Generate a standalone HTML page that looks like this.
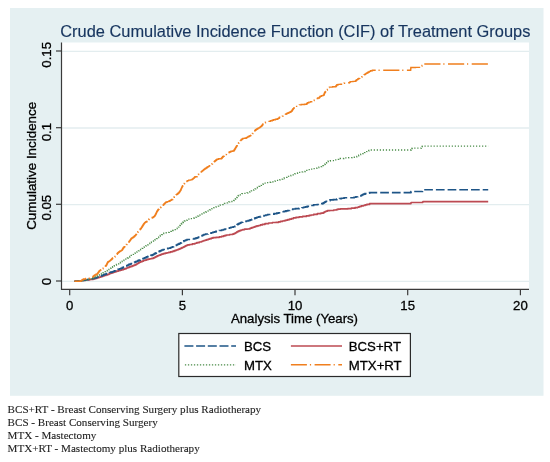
<!DOCTYPE html>
<html><head><meta charset="utf-8"><title>Crude Cumulative Incidence Function</title>
<style>
html,body{margin:0;padding:0;background:#fff;width:550px;height:462px;overflow:hidden}
svg{display:block}
.t{font-family:"Liberation Sans",Arial,sans-serif;font-size:13.2px;fill:#000;stroke:#000;stroke-width:0.3px}
.ti{font-family:"Liberation Sans",Arial,sans-serif;font-size:16.4px;fill:#17355F;stroke:#17355F;stroke-width:0.15px}
.f{font-family:"Liberation Serif","DejaVu Serif",serif;font-size:11.1px;fill:#222;stroke:#222;stroke-width:0.1px}
</style></head><body>
<svg width="550" height="462" viewBox="0 0 550 462">
<rect x="10" y="8" width="533.5" height="387.8" fill="#E5F0F2"/>
<rect x="62" y="42.5" width="467" height="246.5" fill="#fff"/>
<line x1="62" x2="529" y1="281.3" y2="281.3" stroke="#E3EDEF" stroke-width="1.3"/>
<line x1="62" x2="529" y1="204.6" y2="204.6" stroke="#E3EDEF" stroke-width="1.3"/>
<line x1="62" x2="529" y1="128.0" y2="128.0" stroke="#E3EDEF" stroke-width="1.3"/>
<line x1="62" x2="529" y1="51.3" y2="51.3" stroke="#E3EDEF" stroke-width="1.3"/>
<line x1="61.5" x2="61.5" y1="42.5" y2="289.8" stroke="#3a3a3a" stroke-width="1.2"/>
<line x1="61" x2="529" y1="289.3" y2="289.3" stroke="#3a3a3a" stroke-width="1.2"/>
<line x1="56" x2="61.5" y1="281.0" y2="281.0" stroke="#3a3a3a" stroke-width="1.2"/>
<text transform="translate(50.6,281.6) rotate(-90)" text-anchor="middle" class="t">0</text>
<line x1="56" x2="61.5" y1="204.3" y2="204.3" stroke="#3a3a3a" stroke-width="1.2"/>
<text transform="translate(50.6,207.7) rotate(-90)" text-anchor="middle" class="t">0.05</text>
<line x1="56" x2="61.5" y1="127.7" y2="127.7" stroke="#3a3a3a" stroke-width="1.2"/>
<text transform="translate(50.6,132.2) rotate(-90)" text-anchor="middle" class="t">0.1</text>
<line x1="56" x2="61.5" y1="51.0" y2="51.0" stroke="#3a3a3a" stroke-width="1.2"/>
<text transform="translate(50.6,54.8) rotate(-90)" text-anchor="middle" class="t">0.15</text>
<line x1="69.7" x2="69.7" y1="289.3" y2="295.3" stroke="#3a3a3a" stroke-width="1.2"/>
<text x="69.7" y="309.6" text-anchor="middle" class="t">0</text>
<line x1="182.4" x2="182.4" y1="289.3" y2="295.3" stroke="#3a3a3a" stroke-width="1.2"/>
<text x="182.4" y="309.6" text-anchor="middle" class="t">5</text>
<line x1="295.0" x2="295.0" y1="289.3" y2="295.3" stroke="#3a3a3a" stroke-width="1.2"/>
<text x="295.0" y="309.6" text-anchor="middle" class="t">10</text>
<line x1="407.7" x2="407.7" y1="289.3" y2="295.3" stroke="#3a3a3a" stroke-width="1.2"/>
<text x="407.7" y="309.6" text-anchor="middle" class="t">15</text>
<line x1="520.4" x2="520.4" y1="289.3" y2="295.3" stroke="#3a3a3a" stroke-width="1.2"/>
<text x="520.4" y="309.6" text-anchor="middle" class="t">20</text>
<text x="295.3" y="36.6" text-anchor="middle" class="ti">Crude Cumulative Incidence Function (CIF) of Treatment Groups</text>
<text x="294.5" y="322.5" text-anchor="middle" class="t">Analysis Time (Years)</text>
<text transform="translate(36.4,165.8) rotate(-90)" text-anchor="middle" class="t" style="font-size:13.4px">Cumulative Incidence</text>
<polyline points="74.4,281.2 77.45,281.2 77.45,281 80.5,281 81.8,281 81.8,280.5 83.1,280.5 85.27,280.5 85.27,279.95 89.62,279.95 89.62,279.4 91.8,279.4 92.85,279.4 92.85,278.85 94.95,278.85 94.95,278.3 96,278.3 97,278.3 97,277.75 99,277.75 99,277.2 100,277.2 100.61,277.2 100.61,276.75 101.84,276.75 101.84,276.3 103.06,276.3 103.06,275.85 104.29,275.85 104.29,275.4 104.9,275.4 105.85,275.4 105.85,274.85 107.75,274.85 107.75,274.3 108.7,274.3 109.03,274.3 109.03,273.9 109.68,273.9 109.68,273.5 110,273.5 110.73,273.5 110.73,273.04 112.19,273.04 112.19,272.58 113.65,272.58 113.65,272.12 115.11,272.12 115.11,271.66 116.57,271.66 116.57,271.2 117.3,271.2 118.17,271.2 118.17,270.68 119.92,270.68 119.92,270.15 121.67,270.15 121.67,269.63 123.42,269.63 123.42,269.1 124.3,269.1 125.01,269.1 125.01,268.55 126.44,268.55 126.44,268 127.86,268 127.86,267.45 129.29,267.45 129.29,266.9 130,266.9 130.7,266.9 130.7,266.38 132.1,266.38 132.1,265.85 133.5,265.85 133.5,265.33 134.9,265.33 134.9,264.8 135.6,264.8 136.03,264.8 136.03,264.28 136.89,264.28 136.89,263.76 137.75,263.76 137.75,263.24 138.61,263.24 138.61,262.72 139.47,262.72 139.47,262.2 139.9,262.2 140.62,262.2 140.62,261.63 142.05,261.63 142.05,261.07 143.48,261.07 143.48,260.5 144.2,260.5 144.93,260.5 144.93,260.07 146.4,260.07 146.4,259.63 147.87,259.63 147.87,259.2 148.6,259.2 149.68,259.2 149.68,258.75 151.83,258.75 151.83,258.3 152.9,258.3 153.43,258.3 153.43,257.8 154.48,257.8 154.48,257.3 155,257.3 155.45,257.3 155.45,256.85 156.35,256.85 156.35,256.4 157.25,256.4 157.25,255.95 158.15,255.95 158.15,255.5 158.6,255.5 159.22,255.5 159.22,255.03 160.45,255.03 160.45,254.57 161.68,254.57 161.68,254.1 162.3,254.1 163.2,254.1 163.2,253.65 165,253.65 165,253.2 165.9,253.2 166.8,253.2 166.8,252.75 168.6,252.75 168.6,252.3 169.5,252.3 170.43,252.3 170.43,251.85 172.28,251.85 172.28,251.4 173.2,251.4 173.8,251.4 173.8,250.93 175,250.93 175,250.47 176.2,250.47 176.2,250 176.8,250 177.42,250 177.42,249.53 178.65,249.53 178.65,249.07 179.88,249.07 179.88,248.6 180.5,248.6 180.95,248.6 180.95,248.15 181.85,248.15 181.85,247.7 182.75,247.7 182.75,247.25 183.65,247.25 183.65,246.8 184.1,246.8 184.55,246.8 184.55,246.3 185.45,246.3 185.45,245.8 186.35,245.8 186.35,245.3 186.8,245.3 187.73,245.3 187.73,244.9 189.58,244.9 189.58,244.5 190.5,244.5 192.3,244.5 192.3,243.8 194.1,243.8 195,243.8 195,243.25 196.8,243.25 196.8,242.7 197.7,242.7 199.1,242.7 199.1,242 200.5,242 201.17,242 201.17,241.5 202.5,241.5 202.5,241 203.83,241 203.83,240.5 204.5,240.5 205.27,240.5 205.27,240.03 206.8,240.03 206.8,239.57 208.33,239.57 208.33,239.1 209.1,239.1 209.85,239.1 209.85,238.63 211.35,238.63 211.35,238.17 212.85,238.17 212.85,237.7 213.6,237.7 215.9,237.7 215.9,237.3 218.2,237.3 219.32,237.3 219.32,236.85 221.57,236.85 221.57,236.4 222.7,236.4 223.47,236.4 223.47,235.93 225,235.93 225,235.47 226.53,235.47 226.53,235 227.3,235 229.55,235 229.55,234.5 231.8,234.5 232.48,234.5 232.48,234.05 233.83,234.05 233.83,233.6 234.5,233.6 234.96,233.6 234.96,233.05 235.89,233.05 235.89,232.5 236.81,232.5 236.81,231.95 237.74,231.95 237.74,231.4 238.2,231.4 238.8,231.4 238.8,230.93 240,230.93 240,230.47 241.2,230.47 241.2,230 241.8,230 242.73,230 242.73,229.6 244.58,229.6 244.58,229.2 245.5,229.2 247.05,229.2 247.05,229 248.6,229 249.22,229 249.22,228.57 250.45,228.57 250.45,228.13 251.68,228.13 251.68,227.7 252.3,227.7 252.9,227.7 252.9,227.27 254.1,227.27 254.1,226.83 255.3,226.83 255.3,226.4 255.9,226.4 256.8,226.4 256.8,225.95 258.6,225.95 258.6,225.5 259.5,225.5 260.43,225.5 260.43,224.9 262.27,224.9 262.27,224.3 263.2,224.3 265,224.3 265,223.6 266.8,223.6 268.65,223.6 268.65,223 270.5,223 272.3,223 272.3,222.5 274.1,222.5 275.9,222.5 275.9,222.3 277.7,222.3 278.62,222.3 278.62,221.85 280.48,221.85 280.48,221.4 281.4,221.4 282.3,221.4 282.3,221 284.1,221 284.1,220.6 285,220.6 285.9,220.6 285.9,220.15 287.7,220.15 287.7,219.7 288.6,219.7 289.53,219.7 289.53,219.15 291.38,219.15 291.38,218.6 292.3,218.6 293.4,218.6 293.4,217.9 294.5,217.9 295.9,217.9 295.9,217.3 297.3,217.3 299.1,217.3 299.1,216.8 300.9,216.8 302.7,216.8 302.7,216.4 304.5,216.4 306.35,216.4 306.35,215.9 308.2,215.9 309.1,215.9 309.1,215.45 310.9,215.45 310.9,215 311.8,215 313.65,215 313.65,214.3 315.5,214.3 317.3,214.3 317.3,213.6 319.1,213.6 320.9,213.6 320.9,213.2 322.7,213.2 323.17,213.2 323.17,212.63 324.1,212.63 324.1,212.07 325.03,212.07 325.03,211.5 325.5,211.5 326.18,211.5 326.18,211.05 327.52,211.05 327.52,210.6 328.2,210.6 330,210.6 330,210.5 331.8,210.5 333.65,210.5 333.65,210 335.5,210 336.27,210 336.27,209.55 337.82,209.55 337.82,209.1 338.6,209.1 340.45,209.1 340.45,208.9 342.3,208.9 345.9,208.9 347.7,208.9 347.7,208.6 349.5,208.6 351.35,208.6 351.35,208.2 353.2,208.2 355,208.2 355,207.7 356.8,207.7 357.42,207.7 357.42,207.27 358.65,207.27 358.65,206.83 359.88,206.83 359.88,206.4 360.5,206.4 361.4,206.4 361.4,205.95 363.2,205.95 363.2,205.5 364.1,205.5 365,205.5 365,204.95 366.8,204.95 366.8,204.4 367.7,204.4 369.55,204.4 369.55,203.7 371.4,203.7 410.5,203.7 410.73,203.7 410.73,203.1 411.18,203.1 411.18,202.5 411.4,202.5 422.3,202.5 422.52,202.5 422.52,202.05 422.97,202.05 422.97,201.6 423.2,201.6 488.2,201.6" fill="none" stroke="#BC4A52" stroke-width="1.7" stroke-linejoin="round"/>
<polyline points="74.4,281.2 77.45,281.2 77.45,281 80.5,281 81.53,281 81.53,280.57 83.6,280.57 83.6,280.13 85.67,280.13 85.67,279.7 86.7,279.7 88.03,279.7 88.03,279.25 90.68,279.25 90.68,278.8 92,278.8 92.88,278.8 92.88,278.4 94.62,278.4 94.62,278 95.5,278 96.25,278 96.25,277.47 97.75,277.47 97.75,276.93 99.25,276.93 99.25,276.4 100,276.4 100.72,276.4 100.72,275.83 102.15,275.83 102.15,275.27 103.58,275.27 103.58,274.7 104.3,274.7 105.03,274.7 105.03,274.13 106.5,274.13 106.5,273.57 107.97,273.57 107.97,273 108.7,273 109.42,273 109.42,272.57 110.85,272.57 110.85,272.13 112.28,272.13 112.28,271.7 113,271.7 113.54,271.7 113.54,271.25 114.61,271.25 114.61,270.8 115.69,270.8 115.69,270.35 116.76,270.35 116.76,269.9 117.3,269.9 118.03,269.9 118.03,269.33 119.5,269.33 119.5,268.77 120.97,268.77 120.97,268.2 121.7,268.2 122.28,268.2 122.28,267.63 123.45,267.63 123.45,267.07 124.62,267.07 124.62,266.5 125.2,266.5 125.74,266.5 125.74,265.98 126.81,265.98 126.81,265.45 127.89,265.45 127.89,264.93 128.96,264.93 128.96,264.4 129.5,264.4 130.08,264.4 130.08,263.97 131.25,263.97 131.25,263.53 132.42,263.53 132.42,263.1 133,263.1 133.54,263.1 133.54,262.62 134.61,262.62 134.61,262.15 135.69,262.15 135.69,261.67 136.76,261.67 136.76,261.2 137.3,261.2 137.88,261.2 137.88,260.67 139.05,260.67 139.05,260.13 140.22,260.13 140.22,259.6 140.8,259.6 141.52,259.6 141.52,259.03 142.95,259.03 142.95,258.47 144.38,258.47 144.38,257.9 145.1,257.9 145.68,257.9 145.68,257.33 146.85,257.33 146.85,256.77 148.02,256.77 148.02,256.2 148.6,256.2 149.32,256.2 149.32,255.77 150.75,255.77 150.75,255.33 152.18,255.33 152.18,254.9 152.9,254.9 153.25,254.9 153.25,254.47 153.95,254.47 153.95,254.03 154.65,254.03 154.65,253.6 155,253.6 155.45,253.6 155.45,253.15 156.35,253.15 156.35,252.7 157.25,252.7 157.25,252.25 158.15,252.25 158.15,251.8 158.6,251.8 159.06,251.8 159.06,251.35 159.99,251.35 159.99,250.9 160.91,250.9 160.91,250.45 161.84,250.45 161.84,250 162.3,250 163.2,250 163.2,249.45 165,249.45 165,248.9 165.9,248.9 167.7,248.9 167.7,248.2 169.5,248.2 170.12,248.2 170.12,247.73 171.35,247.73 171.35,247.27 172.58,247.27 172.58,246.8 173.2,246.8 173.65,246.8 173.65,246.35 174.55,246.35 174.55,245.9 175.45,245.9 175.45,245.45 176.35,245.45 176.35,245 176.8,245 177.26,245 177.26,244.55 178.19,244.55 178.19,244.1 179.11,244.1 179.11,243.65 180.04,243.65 180.04,243.2 180.5,243.2 180.86,243.2 180.86,242.74 181.58,242.74 181.58,242.28 182.3,242.28 182.3,241.82 183.02,241.82 183.02,241.36 183.74,241.36 183.74,240.9 184.1,240.9 184.7,240.9 184.7,240.43 185.9,240.43 185.9,239.97 187.1,239.97 187.1,239.5 187.7,239.5 191.4,239.5 192.3,239.5 192.3,239.05 194.1,239.05 194.1,238.6 195,238.6 195.68,238.6 195.68,238.15 197.03,238.15 197.03,237.7 197.7,237.7 198.4,237.7 198.4,237.15 199.8,237.15 199.8,236.6 200.5,236.6 201,236.6 201,236.07 202,236.07 202,235.55 203,235.55 203,235.02 204,235.02 204,234.5 204.5,234.5 205.65,234.5 205.65,234.05 207.95,234.05 207.95,233.6 209.1,233.6 209.85,233.6 209.85,233.17 211.35,233.17 211.35,232.73 212.85,232.73 212.85,232.3 213.6,232.3 214.37,232.3 214.37,231.83 215.9,231.83 215.9,231.37 217.43,231.37 217.43,230.9 218.2,230.9 219.32,230.9 219.32,230.45 221.57,230.45 221.57,230 222.7,230 223.47,230 223.47,229.53 225,229.53 225,229.07 226.53,229.07 226.53,228.6 227.3,228.6 228.05,228.6 228.05,228.17 229.55,228.17 229.55,227.73 231.05,227.73 231.05,227.3 231.8,227.3 233.15,227.3 233.15,226.8 234.5,226.8 234.87,226.8 234.87,226.26 235.61,226.26 235.61,225.72 236.35,225.72 236.35,225.18 237.09,225.18 237.09,224.64 237.83,224.64 237.83,224.1 238.2,224.1 238.65,224.1 238.65,223.65 239.55,223.65 239.55,223.2 240.45,223.2 240.45,222.75 241.35,222.75 241.35,222.3 241.8,222.3 242.73,222.3 242.73,221.85 244.58,221.85 244.58,221.4 245.5,221.4 246.4,221.4 246.4,221 248.2,221 248.2,220.6 249.1,220.6 249.63,220.6 249.63,220.17 250.7,220.17 250.7,219.73 251.77,219.73 251.77,219.3 252.3,219.3 253.2,219.3 253.2,218.6 254.1,218.6 254.7,218.6 254.7,218.17 255.9,218.17 255.9,217.73 257.1,217.73 257.1,217.3 257.7,217.3 258.62,217.3 258.62,216.85 260.48,216.85 260.48,216.4 261.4,216.4 262.3,216.4 262.3,215.95 264.1,215.95 264.1,215.5 265,215.5 265.9,215.5 265.9,215 267.7,215 267.7,214.5 268.6,214.5 270.45,214.5 270.45,214.1 272.3,214.1 274.1,214.1 274.1,213.6 275.9,213.6 276.8,213.6 276.8,213.15 278.6,213.15 278.6,212.7 279.5,212.7 280.43,212.7 280.43,212.25 282.27,212.25 282.27,211.8 283.2,211.8 284.1,211.8 284.1,211.35 285.9,211.35 285.9,210.9 286.8,210.9 287.73,210.9 287.73,210.45 289.58,210.45 289.58,210 290.5,210 291.27,210 291.27,209.5 292.82,209.5 292.82,209 293.6,209 295.45,209 295.45,208.6 297.3,208.6 299.1,208.6 299.1,208.2 300.9,208.2 301.8,208.2 301.8,207.75 303.6,207.75 303.6,207.3 304.5,207.3 305.43,207.3 305.43,206.85 307.27,206.85 307.27,206.4 308.2,206.4 309.1,206.4 309.1,205.95 310.9,205.95 310.9,205.5 311.8,205.5 313.65,205.5 313.65,204.8 315.5,204.8 317.3,204.8 317.3,204.5 319.1,204.5 320,204.5 320,204.05 321.8,204.05 321.8,203.6 322.7,203.6 323.05,203.6 323.05,203.15 323.75,203.15 323.75,202.7 324.45,202.7 324.45,202.25 325.15,202.25 325.15,201.8 325.5,201.8 326.18,201.8 326.18,201.2 327.52,201.2 327.52,200.6 328.2,200.6 330,200.6 330,199.9 331.8,199.9 333.4,199.9 333.4,199.6 335,199.6 336.8,199.6 336.8,199.1 338.6,199.1 339.53,199.1 339.53,198.65 341.38,198.65 341.38,198.2 342.3,198.2 344.1,198.2 344.1,197.7 345.9,197.7 353.2,197.7 354.1,197.7 354.1,197.25 355.9,197.25 355.9,196.8 356.8,196.8 357.73,196.8 357.73,196.35 359.58,196.35 359.58,195.9 360.5,195.9 360.95,195.9 360.95,195.45 361.85,195.45 361.85,195 362.75,195 362.75,194.55 363.65,194.55 363.65,194.1 364.1,194.1 365,194.1 365,193.65 366.8,193.65 366.8,193.2 367.7,193.2 369.55,193.2 369.55,192.6 371.4,192.6 410.5,192.6 410.73,192.6 410.73,192.05 411.18,192.05 411.18,191.5 411.4,191.5 422.3,191.5 422.45,191.5 422.45,190.93 422.75,190.93 422.75,190.37 423.05,190.37 423.05,189.8 423.2,189.8 488.2,189.8" fill="none" stroke="#1E5587" stroke-width="1.6" stroke-dasharray="8.7 3" stroke-dashoffset="3.40"/>
<polyline points="74.4,281.2 77.45,281.2 77.45,281 80.5,281 81.5,281 81.5,280.55 83.5,280.55 83.5,280.1 84.5,280.1 86.35,280.1 86.35,279.4 88.2,279.4 89.85,279.4 89.85,279 91.5,279 91.92,279 91.92,278.5 92.75,278.5 92.75,278 93.58,278 93.58,277.5 94,277.5 94.72,277.5 94.72,277 96.17,277 96.17,276.5 96.9,276.5 97.26,276.5 97.26,276.02 97.99,276.02 97.99,275.55 98.71,275.55 98.71,275.07 99.44,275.07 99.44,274.6 99.8,274.6 100.35,274.6 100.35,274.05 101.45,274.05 101.45,273.5 102,273.5 102.36,273.5 102.36,273.05 103.09,273.05 103.09,272.6 103.81,272.6 103.81,272.15 104.54,272.15 104.54,271.7 104.9,271.7 105.38,271.7 105.38,271.23 106.35,271.23 106.35,270.77 107.32,270.77 107.32,270.3 107.8,270.3 108.15,270.3 108.15,269.8 108.85,269.8 108.85,269.3 109.55,269.3 109.55,268.8 110.25,268.8 110.25,268.3 110.95,268.3 110.95,267.8 111.3,267.8 111.72,267.8 111.72,267.25 112.57,267.25 112.57,266.7 113.42,266.7 113.42,266.15 114.27,266.15 114.27,265.6 114.7,265.6 115.28,265.6 115.28,265.03 116.45,265.03 116.45,264.47 117.62,264.47 117.62,263.9 118.2,263.9 118.65,263.9 118.65,263.33 119.55,263.33 119.55,262.77 120.45,262.77 120.45,262.2 120.9,262.2 121.33,262.2 121.33,261.68 122.17,261.68 122.17,261.15 123.02,261.15 123.02,260.63 123.87,260.63 123.87,260.1 124.3,260.1 124.74,260.1 124.74,259.58 125.62,259.58 125.62,259.06 126.5,259.06 126.5,258.54 127.38,258.54 127.38,258.02 128.26,258.02 128.26,257.5 128.7,257.5 129.06,257.5 129.06,256.98 129.78,256.98 129.78,256.47 130.49,256.47 130.49,255.95 131.21,255.95 131.21,255.43 131.93,255.43 131.93,254.92 132.64,254.92 132.64,254.4 133,254.4 133.43,254.4 133.43,253.88 134.29,253.88 134.29,253.36 135.15,253.36 135.15,252.84 136.01,252.84 136.01,252.32 136.87,252.32 136.87,251.8 137.3,251.8 137.66,251.8 137.66,251.3 138.38,251.3 138.38,250.8 139.09,250.8 139.09,250.3 139.81,250.3 139.81,249.8 140.53,249.8 140.53,249.3 141.24,249.3 141.24,248.8 141.6,248.8 141.97,248.8 141.97,248.3 142.7,248.3 142.7,247.8 143.43,247.8 143.43,247.3 144.17,247.3 144.17,246.8 144.9,246.8 144.9,246.3 145.63,246.3 145.63,245.8 146,245.8 146.43,245.8 146.43,245.28 147.29,245.28 147.29,244.76 148.15,244.76 148.15,244.24 149.01,244.24 149.01,243.72 149.87,243.72 149.87,243.2 150.3,243.2 150.66,243.2 150.66,242.7 151.38,242.7 151.38,242.2 152.09,242.2 152.09,241.7 152.81,241.7 152.81,241.2 153.53,241.2 153.53,240.7 154.24,240.7 154.24,240.2 154.6,240.2 154.97,240.2 154.97,239.68 155.7,239.68 155.7,239.17 156.43,239.17 156.43,238.65 157.17,238.65 157.17,238.13 157.9,238.13 157.9,237.62 158.63,237.62 158.63,237.1 159,237.1 159.25,237.1 159.25,236.57 159.75,236.57 159.75,236.03 160.25,236.03 160.25,235.5 160.5,235.5 160.86,235.5 160.86,235.04 161.58,235.04 161.58,234.58 162.3,234.58 162.3,234.12 163.02,234.12 163.02,233.66 163.74,233.66 163.74,233.2 164.1,233.2 165.22,233.2 165.22,232.75 167.47,232.75 167.47,232.3 168.6,232.3 169.17,232.3 169.17,231.85 170.32,231.85 170.32,231.4 171.47,231.4 171.47,230.95 172.62,230.95 172.62,230.5 173.2,230.5 173.65,230.5 173.65,230.04 174.55,230.04 174.55,229.58 175.45,229.58 175.45,229.12 176.35,229.12 176.35,228.66 177.25,228.66 177.25,228.2 177.7,228.2 177.93,228.2 177.93,227.68 178.4,227.68 178.4,227.16 178.87,227.16 178.87,226.63 179.33,226.63 179.33,226.11 179.8,226.11 179.8,225.59 180.27,225.59 180.27,225.07 180.73,225.07 180.73,224.54 181.2,224.54 181.2,224.02 181.67,224.02 181.67,223.5 181.9,223.5 182.18,223.5 182.18,223 182.73,223 182.73,222.5 183.28,222.5 183.28,222 183.83,222 183.83,221.5 184.38,221.5 184.38,221 184.93,221 184.93,220.5 185.2,220.5 185.92,220.5 185.92,220.03 187.35,220.03 187.35,219.57 188.78,219.57 188.78,219.1 189.5,219.1 190.57,219.1 190.57,218.55 192.72,218.55 192.72,218 193.8,218 194.34,218 194.34,217.55 195.41,217.55 195.41,217.1 196.49,217.1 196.49,216.65 197.56,216.65 197.56,216.2 198.1,216.2 198.65,216.2 198.65,215.65 199.75,215.65 199.75,215.1 200.85,215.1 200.85,214.55 201.95,214.55 201.95,214 202.5,214 202.93,214 202.93,213.5 203.79,213.5 203.79,213 204.65,213 204.65,212.5 205.51,212.5 205.51,212 206.37,212 206.37,211.5 206.8,211.5 207.34,211.5 207.34,210.97 208.41,210.97 208.41,210.45 209.49,210.45 209.49,209.92 210.56,209.92 210.56,209.4 211.1,209.4 211.65,209.4 211.65,208.85 212.75,208.85 212.75,208.3 213.85,208.3 213.85,207.75 214.95,207.75 214.95,207.2 215.5,207.2 216.13,207.2 216.13,206.67 217.4,206.67 217.4,206.13 218.67,206.13 218.67,205.6 219.3,205.6 220.03,205.6 220.03,205.07 221.5,205.07 221.5,204.53 222.97,204.53 222.97,204 223.7,204 224.47,204 224.47,203.43 226,203.43 226,202.87 227.53,202.87 227.53,202.3 228.3,202.3 228.78,202.3 228.78,201.9 229.72,201.9 229.72,201.5 230.2,201.5 233.2,201.5 233.4,201.5 233.4,201 233.8,201 233.8,200.5 234.2,200.5 234.2,200 234.6,200 234.6,199.5 234.8,199.5 235.08,199.5 235.08,199.07 235.65,199.07 235.65,198.63 236.22,198.63 236.22,198.2 236.5,198.2 236.72,198.2 236.72,197.63 237.15,197.63 237.15,197.07 237.58,197.07 237.58,196.5 237.8,196.5 238.03,196.5 238.03,195.93 238.5,195.93 238.5,195.37 238.97,195.37 238.97,194.8 239.2,194.8 240.3,194.8 240.3,194.1 241.4,194.1 241.93,194.1 241.93,193.7 242.98,193.7 242.98,193.3 243.5,193.3 246.5,193.3 247,193.3 247,192.9 248,192.9 248,192.5 248.5,192.5 249.03,192.5 249.03,191.95 250.07,191.95 250.07,191.4 250.6,191.4 251.3,191.4 251.3,190.85 252.7,190.85 252.7,190.3 253.4,190.3 253.74,190.3 253.74,189.8 254.41,189.8 254.41,189.3 255.09,189.3 255.09,188.8 255.76,188.8 255.76,188.3 256.1,188.3 256.51,188.3 256.51,187.83 257.34,187.83 257.34,187.35 258.16,187.35 258.16,186.88 258.99,186.88 258.99,186.4 259.4,186.4 259.8,186.4 259.8,185.88 260.6,185.88 260.6,185.35 261.4,185.35 261.4,184.82 262.2,184.82 262.2,184.3 262.6,184.3 263.2,184.3 263.2,183.75 264.4,183.75 264.4,183.2 265,183.2 266.3,183.2 266.3,182.7 267.6,182.7 268.68,182.7 268.68,182.25 270.82,182.25 270.82,181.8 271.9,181.8 272.97,181.8 272.97,181.35 275.12,181.35 275.12,180.9 276.2,180.9 276.93,180.9 276.93,180.47 278.4,180.47 278.4,180.03 279.87,180.03 279.87,179.6 280.6,179.6 281.32,179.6 281.32,179.07 282.75,179.07 282.75,178.53 284.18,178.53 284.18,178 284.9,178 285.62,178 285.62,177.47 287.05,177.47 287.05,176.93 288.48,176.93 288.48,176.4 289.2,176.4 289.75,176.4 289.75,175.87 290.85,175.87 290.85,175.33 291.95,175.33 291.95,174.8 292.5,174.8 293.22,174.8 293.22,174.33 294.65,174.33 294.65,173.87 296.08,173.87 296.08,173.4 296.8,173.4 297.52,173.4 297.52,172.87 298.95,172.87 298.95,172.33 300.38,172.33 300.38,171.8 301.1,171.8 302.75,171.8 302.75,171.5 304.4,171.5 305.2,171.5 305.2,170.95 306.8,170.95 306.8,170.4 307.6,170.4 308.5,170.4 308.5,169.7 309.4,169.7 310.47,169.7 310.47,169.15 312.62,169.15 312.62,168.6 313.7,168.6 314.8,168.6 314.8,168.05 317,168.05 317,167.5 318.1,167.5 318.83,167.5 318.83,167.03 320.3,167.03 320.3,166.57 321.77,166.57 321.77,166.1 322.5,166.1 322.82,166.1 322.82,165.6 323.46,165.6 323.46,165.1 324.1,165.1 324.1,164.6 324.74,164.6 324.74,164.1 325.38,164.1 325.38,163.6 325.7,163.6 325.98,163.6 325.98,163.08 326.54,163.08 326.54,162.56 327.1,162.56 327.1,162.04 327.66,162.04 327.66,161.52 328.22,161.52 328.22,161 328.5,161 330.4,161 330.4,160.6 332.3,160.6 334.45,160.6 334.45,159.9 336.6,159.9 337.33,159.9 337.33,159.43 338.8,159.43 338.8,158.97 340.27,158.97 340.27,158.5 341,158.5 343.75,158.5 343.75,157.9 346.5,157.9 348.65,157.9 348.65,157.7 350.8,157.7 352.18,157.7 352.18,157.25 354.93,157.25 354.93,156.8 356.3,156.8 356.78,156.8 356.78,156.28 357.73,156.28 357.73,155.75 358.68,155.75 358.68,155.22 359.62,155.22 359.62,154.7 360.1,154.7 360.74,154.7 360.74,154.17 362.01,154.17 362.01,153.65 363.29,153.65 363.29,153.12 364.56,153.12 364.56,152.6 365.2,152.6 365.71,152.6 365.71,152.08 366.73,152.08 366.73,151.56 367.75,151.56 367.75,151.04 368.77,151.04 368.77,150.52 369.79,150.52 369.79,150 370.3,150 411,150 411.16,150 411.16,149.53 411.49,149.53 411.49,149.05 411.81,149.05 411.81,148.58 412.14,148.58 412.14,148.1 412.3,148.1 421.2,148.1 421.36,148.1 421.36,147.62 421.69,147.62 421.69,147.15 422.01,147.15 422.01,146.68 422.34,146.68 422.34,146.2 422.5,146.2 488.2,146.2" fill="none" stroke="#4A8C48" stroke-width="1.3" stroke-dasharray="1.2 1.83" stroke-dashoffset="2.75"/>
<polyline points="74.4,281.2 80.5,281.2 80.88,281.2 80.88,280.65 81.62,280.65 81.62,280.1 82,280.1 82.55,280.1 82.55,279.55 83.65,279.55 83.65,279 84.2,279 85.85,279 85.85,278.4 87.5,278.4 89.3,278.4 89.3,278.1 91.1,278.1 91.47,278.1 91.47,277.57 92.2,277.57 92.2,277.03 92.93,277.03 92.93,276.5 93.3,276.5 93.6,276.5 93.6,276 94.2,276 94.2,275.5 94.8,275.5 94.8,275 95.1,275 96,275 96,274.3 96.9,274.3 97.09,274.3 97.09,273.85 97.46,273.85 97.46,273.4 97.84,273.4 97.84,272.95 98.21,272.95 98.21,272.5 98.4,272.5 98.58,272.5 98.58,272.02 98.92,272.02 98.92,271.55 99.27,271.55 99.27,271.07 99.62,271.07 99.62,270.6 99.8,270.6 100.17,270.6 100.17,270.13 100.9,270.13 100.9,269.67 101.63,269.67 101.63,269.2 102,269.2 102.37,269.2 102.37,268.7 103.1,268.7 103.1,268.2 103.83,268.2 103.83,267.7 104.2,267.7 104.42,267.7 104.42,267.2 104.86,267.2 104.86,266.7 105.3,266.7 105.3,266.2 105.74,266.2 105.74,265.7 106.18,265.7 106.18,265.2 106.4,265.2 106.52,265.2 106.52,264.72 106.75,264.72 106.75,264.23 106.98,264.23 106.98,263.75 107.22,263.75 107.22,263.27 107.45,263.27 107.45,262.78 107.68,262.78 107.68,262.3 107.8,262.3 108.14,262.3 108.14,261.82 108.81,261.82 108.81,261.35 109.49,261.35 109.49,260.87 110.16,260.87 110.16,260.4 110.5,260.4 110.74,260.4 110.74,259.92 111.22,259.92 111.22,259.44 111.7,259.44 111.7,258.96 112.18,258.96 112.18,258.48 112.66,258.48 112.66,258 112.9,258 113.31,258 113.31,257.48 114.14,257.48 114.14,256.95 114.96,256.95 114.96,256.43 115.79,256.43 115.79,255.9 116.2,255.9 116.34,255.9 116.34,255.36 116.62,255.36 116.62,254.82 116.9,254.82 116.9,254.28 117.18,254.28 117.18,253.74 117.46,253.74 117.46,253.2 117.6,253.2 117.9,253.2 117.9,252.72 118.5,252.72 118.5,252.25 119.1,252.25 119.1,251.78 119.7,251.78 119.7,251.3 120,251.3 120.47,251.3 120.47,250.85 121.42,250.85 121.42,250.4 121.9,250.4 122.04,250.4 122.04,249.92 122.32,249.92 122.32,249.44 122.6,249.44 122.6,248.96 122.88,248.96 122.88,248.48 123.16,248.48 123.16,248 123.3,248 123.54,248 123.54,247.53 124.01,247.53 124.01,247.05 124.49,247.05 124.49,246.58 124.96,246.58 124.96,246.1 125.2,246.1 125.44,246.1 125.44,245.58 125.92,245.58 125.92,245.06 126.4,245.06 126.4,244.54 126.88,244.54 126.88,244.02 127.36,244.02 127.36,243.5 127.6,243.5 127.84,243.5 127.84,242.95 128.31,242.95 128.31,242.4 128.79,242.4 128.79,241.85 129.26,241.85 129.26,241.3 129.5,241.3 129.66,241.3 129.66,240.83 129.97,240.83 129.97,240.37 130.29,240.37 130.29,239.9 130.61,239.9 130.61,239.43 130.92,239.43 130.92,238.97 131.24,238.97 131.24,238.5 131.4,238.5 131.8,238.5 131.8,238 132.6,238 132.6,237.5 133.4,237.5 133.4,237 133.8,237 134.04,237 134.04,236.53 134.51,236.53 134.51,236.05 134.99,236.05 134.99,235.58 135.46,235.58 135.46,235.1 135.7,235.1 135.88,235.1 135.88,234.62 136.22,234.62 136.22,234.15 136.57,234.15 136.57,233.68 136.92,233.68 136.92,233.2 137.1,233.2 137.25,233.2 137.25,232.74 137.55,232.74 137.55,232.28 137.85,232.28 137.85,231.82 138.15,231.82 138.15,231.36 138.45,231.36 138.45,230.9 138.6,230.9 138.88,230.9 138.88,230.38 139.43,230.38 139.43,229.85 139.98,229.85 139.98,229.32 140.53,229.32 140.53,228.8 140.8,228.8 140.95,228.8 140.95,228.33 141.25,228.33 141.25,227.87 141.55,227.87 141.55,227.4 141.85,227.4 141.85,226.93 142.15,226.93 142.15,226.47 142.45,226.47 142.45,226 142.6,226 142.76,226 142.76,225.52 143.07,225.52 143.07,225.03 143.39,225.03 143.39,224.55 143.71,224.55 143.71,224.07 144.02,224.07 144.02,223.58 144.34,223.58 144.34,223.1 144.5,223.1 144.78,223.1 144.78,222.67 145.35,222.67 145.35,222.23 145.92,222.23 145.92,221.8 146.2,221.8 147,221.8 147,221.1 147.8,221.1 147.99,221.1 147.99,220.58 148.37,220.58 148.37,220.06 148.75,220.06 148.75,219.54 149.13,219.54 149.13,219.02 149.51,219.02 149.51,218.5 149.7,218.5 150.52,218.5 150.52,218 152.17,218 152.17,217.5 153,217.5 153.27,217.5 153.27,217.07 153.8,217.07 153.8,216.63 154.33,216.63 154.33,216.2 154.6,216.2 154.76,216.2 154.76,215.65 155.09,215.65 155.09,215.1 155.41,215.1 155.41,214.55 155.74,214.55 155.74,214 155.9,214 156,214 156,213.54 156.2,213.54 156.2,213.08 156.4,213.08 156.4,212.62 156.6,212.62 156.6,212.16 156.8,212.16 156.8,211.7 156.9,211.7 157.06,211.7 157.06,211.2 157.39,211.2 157.39,210.7 157.71,210.7 157.71,210.2 158.04,210.2 158.04,209.7 158.2,209.7 158.45,209.7 158.45,209.25 158.95,209.25 158.95,208.8 159.2,208.8 159.47,208.8 159.47,208.3 160.03,208.3 160.03,207.8 160.58,207.8 160.58,207.3 161.13,207.3 161.13,206.8 161.4,206.8 161.65,206.8 161.65,206.33 162.15,206.33 162.15,205.85 162.65,205.85 162.65,205.38 163.15,205.38 163.15,204.9 163.4,204.9 163.62,204.9 163.62,204.47 164.05,204.47 164.05,204.03 164.48,204.03 164.48,203.6 164.7,203.6 164.9,203.6 164.9,203.17 165.3,203.17 165.3,202.73 165.7,202.73 165.7,202.3 165.9,202.3 167.05,202.3 167.05,201.6 168.2,201.6 168.67,201.6 168.67,201.2 169.62,201.2 169.62,200.8 170.1,200.8 170.42,200.8 170.42,200.37 171.05,200.37 171.05,199.93 171.68,199.93 171.68,199.5 172,199.5 172.75,199.5 172.75,198.9 173.5,198.9 173.61,198.9 173.61,198.38 173.83,198.38 173.83,197.86 174.05,197.86 174.05,197.34 174.27,197.34 174.27,196.82 174.49,196.82 174.49,196.3 174.6,196.3 174.89,196.3 174.89,195.83 175.46,195.83 175.46,195.35 176.04,195.35 176.04,194.88 176.61,194.88 176.61,194.4 176.9,194.4 177.19,194.4 177.19,193.93 177.76,193.93 177.76,193.45 178.34,193.45 178.34,192.98 178.91,192.98 178.91,192.5 179.2,192.5 179.35,192.5 179.35,192.04 179.65,192.04 179.65,191.58 179.95,191.58 179.95,191.12 180.25,191.12 180.25,190.66 180.55,190.66 180.55,190.2 180.7,190.2 180.81,190.2 180.81,189.68 181.03,189.68 181.03,189.16 181.25,189.16 181.25,188.64 181.47,188.64 181.47,188.12 181.69,188.12 181.69,187.6 181.8,187.6 181.92,187.6 181.92,187.14 182.16,187.14 182.16,186.68 182.4,186.68 182.4,186.22 182.64,186.22 182.64,185.76 182.88,185.76 182.88,185.3 183,185.3 183.18,185.3 183.18,184.84 183.54,184.84 183.54,184.38 183.9,184.38 183.9,183.92 184.26,183.92 184.26,183.46 184.62,183.46 184.62,183 184.8,183 185.09,183 185.09,182.53 185.66,182.53 185.66,182.05 186.24,182.05 186.24,181.58 186.81,181.58 186.81,181.1 187.1,181.1 187.62,181.1 187.62,180.6 188.68,180.6 188.68,180.1 189.2,180.1 190.4,180.1 190.4,179.9 191.6,179.9 191.93,179.9 191.93,179.4 192.6,179.4 192.6,178.9 193.27,178.9 193.27,178.4 193.6,178.4 193.87,178.4 193.87,177.87 194.4,177.87 194.4,177.33 194.93,177.33 194.93,176.8 195.2,176.8 196.4,176.8 196.4,176.7 197.6,176.7 197.7,176.7 197.7,176.18 197.9,176.18 197.9,175.67 198.1,175.67 198.1,175.15 198.3,175.15 198.3,174.63 198.5,174.63 198.5,174.12 198.7,174.12 198.7,173.6 198.8,173.6 199.15,173.6 199.15,173.1 199.85,173.1 199.85,172.6 200.55,172.6 200.55,172.1 201.25,172.1 201.25,171.6 201.6,171.6 201.9,171.6 201.9,171.1 202.5,171.1 202.5,170.6 203.1,170.6 203.1,170.1 203.7,170.1 203.7,169.6 204,169.6 204.4,169.6 204.4,169.07 205.2,169.07 205.2,168.53 206,168.53 206,168 206.4,168 206.73,168 206.73,167.53 207.4,167.53 207.4,167.07 208.07,167.07 208.07,166.6 208.4,166.6 208.8,166.6 208.8,166.1 209.6,166.1 209.6,165.6 210,165.6 210.35,165.6 210.35,165.05 211.05,165.05 211.05,164.5 211.75,164.5 211.75,163.95 212.45,163.95 212.45,163.4 212.8,163.4 213.05,163.4 213.05,162.85 213.55,162.85 213.55,162.3 214.05,162.3 214.05,161.75 214.55,161.75 214.55,161.2 214.8,161.2 215.11,161.2 215.11,160.7 215.74,160.7 215.74,160.2 216.36,160.2 216.36,159.7 216.99,159.7 216.99,159.2 217.3,159.2 218.5,159.2 218.5,158.8 219.7,158.8 221.3,158.8 221.5,158.8 221.5,158.3 221.9,158.3 221.9,157.8 222.3,157.8 222.3,157.3 222.7,157.3 222.7,156.8 222.9,156.8 223.3,156.8 223.3,156.2 224.1,156.2 224.1,155.6 224.5,155.6 224.88,155.6 224.88,155.03 225.65,155.03 225.65,154.47 226.42,154.47 226.42,153.9 226.8,153.9 227.23,153.9 227.23,153.33 228.1,153.33 228.1,152.77 228.97,152.77 228.97,152.2 229.4,152.2 229.93,152.2 229.93,151.75 230.98,151.75 230.98,151.3 231.5,151.3 232.6,151.3 232.6,151 233.7,151 233.86,151 233.86,150.5 234.19,150.5 234.19,150 234.51,150 234.51,149.5 234.84,149.5 234.84,149 235,149 235.16,149 235.16,148.45 235.49,148.45 235.49,147.9 235.81,147.9 235.81,147.35 236.14,147.35 236.14,146.8 236.3,146.8 236.48,146.8 236.48,146.23 236.85,146.23 236.85,145.67 237.22,145.67 237.22,145.1 237.4,145.1 237.55,145.1 237.55,144.62 237.85,144.62 237.85,144.14 238.15,144.14 238.15,143.66 238.45,143.66 238.45,143.18 238.75,143.18 238.75,142.7 238.9,142.7 239.11,142.7 239.11,142.18 239.53,142.18 239.53,141.66 239.95,141.66 239.95,141.14 240.37,141.14 240.37,140.62 240.79,140.62 240.79,140.1 241,140.1 241.37,140.1 241.37,139.53 242.1,139.53 242.1,138.97 242.83,138.97 242.83,138.4 243.2,138.4 244.5,138.4 244.5,138.2 245.8,138.2 246.17,138.2 246.17,137.77 246.9,137.77 246.9,137.33 247.63,137.33 247.63,136.9 248,136.9 248.43,136.9 248.43,136.47 249.3,136.47 249.3,136.03 250.17,136.03 250.17,135.6 250.6,135.6 250.86,135.6 250.86,135.08 251.38,135.08 251.38,134.56 251.9,134.56 251.9,134.04 252.42,134.04 252.42,133.52 252.94,133.52 252.94,133 253.2,133 253.38,133 253.38,132.53 253.72,132.53 253.72,132.07 254.07,132.07 254.07,131.6 254.42,131.6 254.42,131.13 254.77,131.13 254.77,130.67 255.12,130.67 255.12,130.2 255.3,130.2 255.67,130.2 255.67,129.7 256.4,129.7 256.4,129.2 257.13,129.2 257.13,128.7 257.5,128.7 258.05,128.7 258.05,128.15 259.15,128.15 259.15,127.6 259.7,127.6 259.98,127.6 259.98,127.13 260.55,127.13 260.55,126.67 261.12,126.67 261.12,126.2 261.4,126.2 261.7,126.2 261.7,125.6 262,125.6 262.2,125.6 262.2,125.07 262.6,125.07 262.6,124.53 263,124.53 263,124 263.2,124 263.65,124 263.65,123.43 264.55,123.43 264.55,122.87 265.45,122.87 265.45,122.3 265.9,122.3 266.72,122.3 266.72,121.85 268.38,121.85 268.38,121.4 269.2,121.4 270.4,121.4 270.4,120.7 271.6,120.7 272.2,120.7 272.2,120.25 273.4,120.25 273.4,119.8 274,119.8 275.4,119.8 275.4,119.2 276.8,119.2 277.3,119.2 277.3,118.8 278.3,118.8 278.3,118.4 278.8,118.4 278.97,118.4 278.97,117.97 279.3,117.97 279.3,117.53 279.63,117.53 279.63,117.1 279.8,117.1 280.65,117.1 280.65,116.7 282.35,116.7 282.35,116.3 283.2,116.3 283.5,116.3 283.5,115.83 284.1,115.83 284.1,115.35 284.7,115.35 284.7,114.88 285.3,114.88 285.3,114.4 285.6,114.4 286.1,114.4 286.1,113.8 287.1,113.8 287.1,113.2 287.6,113.2 288.2,113.2 288.2,112.75 289.4,112.75 289.4,112.3 290,112.3 290.43,112.3 290.43,111.75 291.27,111.75 291.27,111.2 291.7,111.2 291.85,111.2 291.85,110.7 292.15,110.7 292.15,110.2 292.45,110.2 292.45,109.7 292.75,109.7 292.75,109.2 292.9,109.2 293.17,109.2 293.17,108.67 293.7,108.67 293.7,108.13 294.23,108.13 294.23,107.6 294.5,107.6 295.2,107.6 295.2,107 296.6,107 296.6,106.4 297.3,106.4 297.72,106.4 297.72,105.9 298.55,105.9 298.55,105.4 299.38,105.4 299.38,104.9 299.8,104.9 301.25,104.9 301.25,104.5 302.7,104.5 304.55,104.5 304.55,104.3 306.4,104.3 306.63,104.3 306.63,103.77 307.1,103.77 307.1,103.23 307.57,103.23 307.57,102.7 307.8,102.7 308.9,102.7 308.9,102.1 310,102.1 310.75,102.1 310.75,101.6 311.5,101.6 312.03,101.6 312.03,101.13 313.1,101.13 313.1,100.67 314.17,100.67 314.17,100.2 314.7,100.2 315,100.2 315,99.63 315.6,99.63 315.6,99.07 316.2,99.07 316.2,98.5 316.5,98.5 317.8,98.5 317.8,98 319.1,98 319.28,98 319.28,97.55 319.62,97.55 319.62,97.1 319.98,97.1 319.98,96.65 320.33,96.65 320.33,96.2 320.5,96.2 321.6,96.2 321.6,95.6 322.7,95.6 323.25,95.6 323.25,95.3 323.8,95.3 323.89,95.3 323.89,94.8 324.06,94.8 324.06,94.3 324.24,94.3 324.24,93.8 324.41,93.8 324.41,93.3 324.5,93.3 324.65,93.3 324.65,92.8 324.95,92.8 324.95,92.3 325.25,92.3 325.25,91.8 325.4,91.8 325.62,91.8 325.62,91.34 326.06,91.34 326.06,90.88 326.5,90.88 326.5,90.42 326.94,90.42 326.94,89.96 327.38,89.96 327.38,89.5 327.6,89.5 327.8,89.5 327.8,89.02 328.2,89.02 328.2,88.54 328.6,88.54 328.6,88.06 329,88.06 329,87.58 329.4,87.58 329.4,87.1 329.6,87.1 332.6,87.1 332.6,86.8 335.6,86.8 335.8,86.8 335.8,86.3 336.2,86.3 336.2,85.8 336.6,85.8 336.6,85.3 337,85.3 337,84.8 337.2,84.8 338.2,84.8 338.2,84.4 339.2,84.4 340.4,84.4 340.4,84.2 341.6,84.2 342.4,84.2 342.4,83.7 344,83.7 344,83.2 344.8,83.2 348.4,83.2 348.8,83.2 348.8,82.67 349.6,82.67 349.6,82.13 350.4,82.13 350.4,81.6 350.8,81.6 353,81.6 353,81.4 355.2,81.4 355.45,81.4 355.45,80.95 355.95,80.95 355.95,80.5 356.45,80.5 356.45,80.05 356.95,80.05 356.95,79.6 357.2,79.6 357.7,79.6 357.7,79 358.7,79 358.7,78.4 359.2,78.4 359.73,78.4 359.73,77.87 360.8,77.87 360.8,77.33 361.87,77.33 361.87,76.8 362.4,76.8 362.65,76.8 362.65,76.3 363.15,76.3 363.15,75.8 363.65,75.8 363.65,75.3 364.15,75.3 364.15,74.8 364.4,74.8 364.73,74.8 364.73,74.33 365.4,74.33 365.4,73.87 366.07,73.87 366.07,73.4 366.4,73.4 366.8,73.4 366.8,72.93 367.6,72.93 367.6,72.47 368.4,72.47 368.4,72 368.8,72 369.4,72 369.4,71.4 370.6,71.4 370.6,70.8 371.2,70.8 372.4,70.8 372.4,70.3 373.6,70.3 410.6,70.3 410.62,70.3 410.62,69.83 410.68,69.83 410.68,69.37 410.73,69.37 410.73,68.9 410.78,68.9 410.78,68.43 410.83,68.43 410.83,67.97 410.88,67.97 410.88,67.5 410.9,67.5 415.45,67.5 415.45,67.4 420,67.4 420.3,67.4 420.3,66.93 420.9,66.93 420.9,66.47 421.5,66.47 421.5,66 421.8,66 422.03,66 422.03,65.5 422.48,65.5 422.48,65 422.93,65 422.93,64.5 423.38,64.5 423.38,64 423.6,64 488.2,64" fill="none" stroke="#F07F1E" stroke-width="1.4" stroke-dasharray="16.2 2.8 1.2 3.5" stroke-dashoffset="1.70"/>
<rect x="178.8" y="333.5" width="231.6" height="43" fill="#fff" stroke="#2a2a2a" stroke-width="1.2"/>
<line x1="184.4" x2="236" y1="346" y2="346" stroke="#1E5587" stroke-width="1.6" stroke-dasharray="9 2.7"/>
<line x1="184.9" x2="236" y1="364.8" y2="364.8" stroke="#4A8C48" stroke-width="1.3" stroke-dasharray="1.3 1.7"/>
<line x1="290.9" x2="342" y1="346" y2="346" stroke="#BC4A52" stroke-width="1.6"/>
<line x1="290.9" x2="342" y1="364.8" y2="364.8" stroke="#F07F1E" stroke-width="1.5" stroke-dasharray="16 3 1.2 3.5"/>
<text x="243.9" y="350.9" class="t">BCS</text>
<text x="243.9" y="369.6" class="t">MTX</text>
<text x="348.8" y="350.9" class="t">BCS+RT</text>
<text x="348.8" y="369.6" class="t">MTX+RT</text>
<text x="7.6" y="412.70" class="f">BCS+RT - Breast Conserving Surgery plus Radiotherapy</text>
<text x="7.6" y="425.75" class="f">BCS - Breast Conserving Surgery</text>
<text x="7.6" y="438.80" class="f">MTX - Mastectomy</text>
<text x="7.6" y="451.85" class="f">MTX+RT - Mastectomy plus Radiotherapy</text>
</svg>
</body></html>
